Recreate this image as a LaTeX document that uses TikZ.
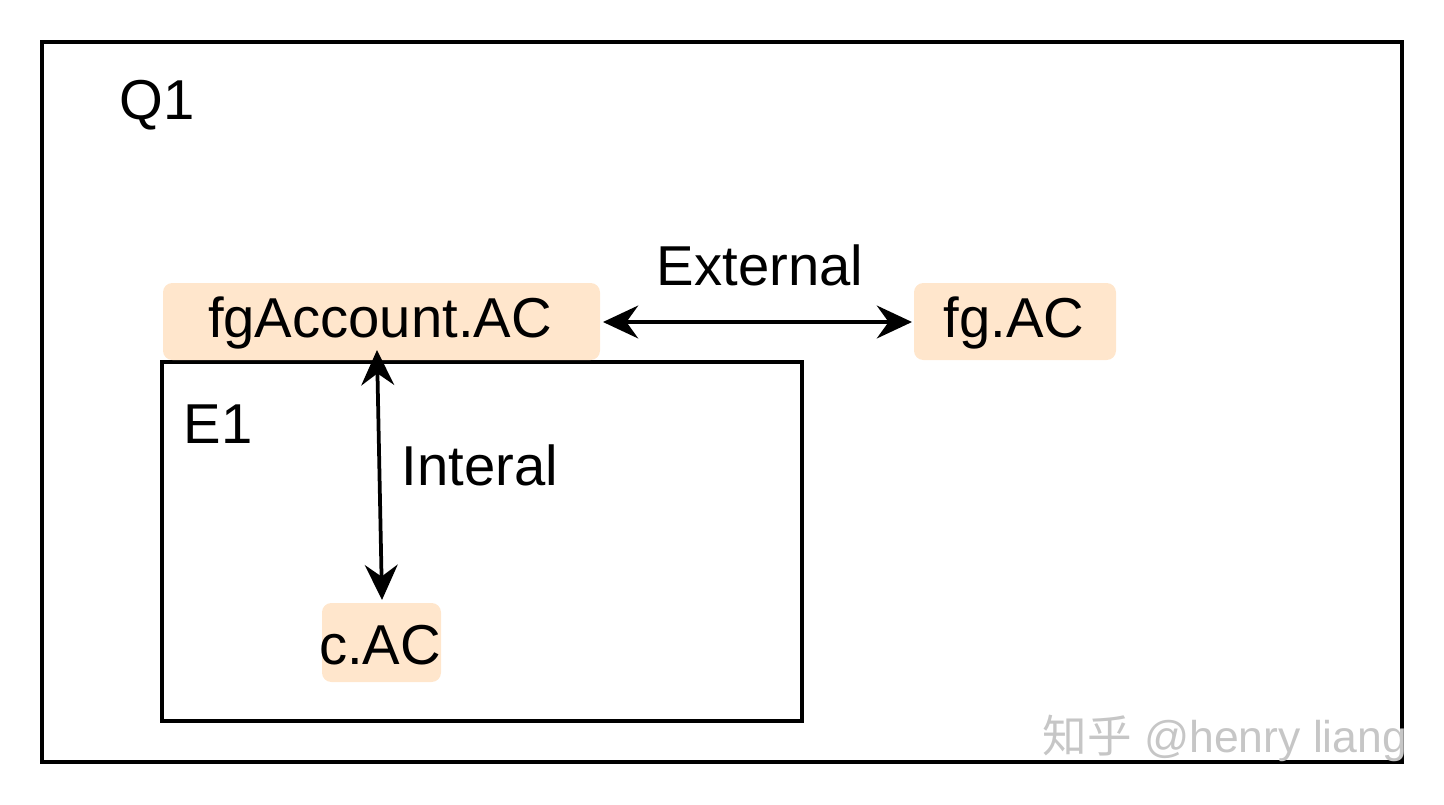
\documentclass[tikz,border=0pt]{standalone}
\usepackage{fontspec}
\setmainfont{Liberation Sans}
\newfontfamily\cjk{Noto Sans CJK SC}
\usetikzlibrary{arrows.meta}
\begin{document}
\begin{tikzpicture}[x=0.03cm,y=-0.03cm,
  frame/.style={draw=black,line width=2.6pt},
  lbl/.style={font=\fontsize{48}{52}\selectfont,inner sep=0pt},
  conn/.style={line width=3.2pt,{Stealth[length=30pt,width=28pt,inset=10pt]}-{Stealth[length=30pt,width=28pt,inset=10pt]}}]
\definecolor{peach}{HTML}{FFE6CC}
\useasboundingbox (0,0) rectangle (1444,804);
\draw[frame] (42,42) rectangle (1402,762);
\node[lbl] (q1) at (157,105) {Q1};
\draw[frame] (162,362) rectangle (802,721);
\node[lbl] (e1) at (218,424) {E1};
\fill[peach,rounded corners=8pt] (163,283) rectangle (600,360);
\node[lbl] (fga) at (380,323) {fgAccount.AC};
\fill[peach,rounded corners=8pt] (914,283) rectangle (1116,360);
\node[lbl] (fg) at (1014,323) {fg.AC};
\fill[peach,rounded corners=8pt] (322,603) rectangle (441,682);
\node[lbl] (c) at (380,645) {c.AC};
\coordinate (a1) at (603,322);
\coordinate (a2) at (912,322);
\draw[conn] (a1) -- (a2);
\coordinate (b1) at (377,350);
\coordinate (b2) at (382,600);
\draw[conn] (b1) -- (b2);
\node[lbl] (ext) at (760,265) {External};
\node[lbl] (int) at (480,465) {Interal};
\node[text=gray!45,font=\fontsize{38}{42}\selectfont,inner sep=0pt] (wm) at (1225,738) {{\cjk 知乎} @henry liang};
\end{tikzpicture}
\end{document}
